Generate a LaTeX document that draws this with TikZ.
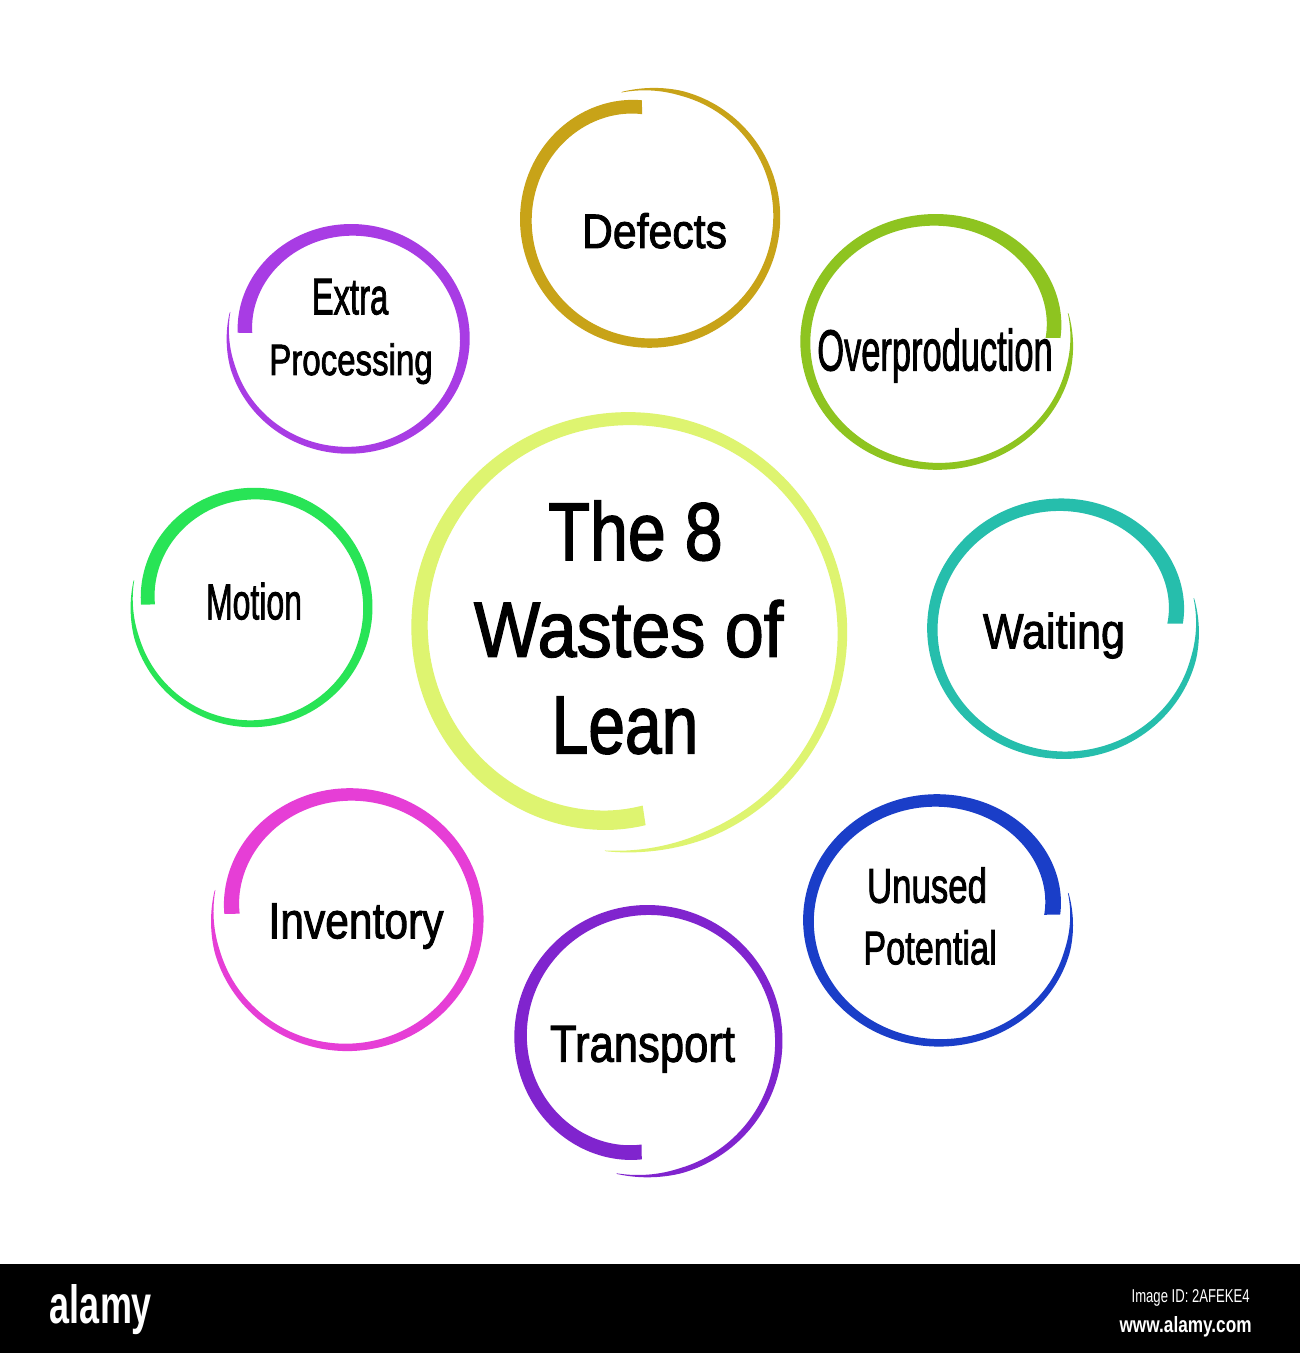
\documentclass[tikz,border=0pt]{standalone}
\usepackage{fontspec}
\setmainfont{Liberation Sans}
\newfontfamily\labfont[FakeBold=2]{Liberation Sans}
\usepackage{graphicx}
\definecolor{cDef}{RGB}{200,163,24}
\definecolor{cOver}{RGB}{142,196,32}
\definecolor{cWait}{RGB}{38,190,172}
\definecolor{cUnus}{RGB}{26,62,200}
\definecolor{cTran}{RGB}{128,36,206}
\definecolor{cInv}{RGB}{230,62,214}
\definecolor{cMot}{RGB}{40,228,86}
\definecolor{cExt}{RGB}{168,60,228}
\definecolor{cCen}{RGB}{222,244,112}
\pgfkeys{/br/.cd,
  cx/.store in=\brCx, cy/.store in=\brCy, a/.store in=\brA, s/.store in=\brS,
  R/.store in=\brR, h/.store in=\brH, g/.store in=\brG, w/.store in=\brW,
  ex/.store in=\brEx, col/.store in=\brCol}
\newcommand{\brushring}[1]{%
  \pgfkeys{/br/.cd, ex=1, #1}%
  \fill[\brCol] plot[domain=0:1, samples=200, variable=\t]
    ({\brCx+\brEx*(brr(\t)+brw(\t))*cos(bra(\t))},{\brCy+(brr(\t)+brw(\t))*sin(bra(\t))})
    -- plot[domain=0:1, samples=200, variable=\t]
    ({\brCx+\brEx*(brr(1-\t)-brw(1-\t))*cos(bra(1-\t))},{\brCy+(brr(1-\t)-brw(1-\t))*sin(bra(1-\t))})
    -- cycle;}
\tikzset{lab/.style={anchor=base, inner sep=0pt, text=black, font=\labfont}}
\begin{document}
\begin{tikzpicture}[x=0.5pt,y=-0.5pt,
  declare function={
    brr(\x)=\brR+\brG*\x^3-\brH*(1-\x)^8;
    brw(\x)=0.5*\brW*(1-0.7*\x)*min(1,(1.01-\x)*12);
    bra(\x)=\brA+\brS*\x;
  }]
\useasboundingbox (0,0) rectangle (1300,1353);
\fill[white] (0,0) rectangle (1300,1353);
% rings
\brushring{col=cCen, cx=627.5, cy=630, a=84.7, s=371.2, R=210, h=24, g=12, w=20}
\brushring{col=cDef, cx=650, cy=217, a=266, s=-369, R=126, h=16, g=2, w=14}
\brushring{col=cOver, cx=938, cy=342, a=-2, s=-371.4, R=124, h=16.5, g=1, w=14, ex=1.07}
\brushring{col=cWait, cx=1064, cy=628.5, a=-2.4, s=-371.4, R=126, h=19.6, g=2, w=15, ex=1.044}
\brushring{col=cUnus, cx=939.5, cy=920.5, a=-3, s=-370, R=122, h=17, g=1, w=15, ex=1.074}
\brushring{col=cTran, cx=647, cy=1039, a=92.5, s=370.4, R=128, h=15, g=10, w=15}
\brushring{col=cInv, cx=348, cy=919, a=182.5, s=370.2, R=126, h=13.3, g=6.3, w=15, ex=1.03}
\brushring{col=cMot, cx=253, cy=606.7, a=181, s=371.6, R=114, h=9, g=8, w=14}
\brushring{col=cExt, cx=350, cy=338, a=182.8, s=370, R=109, h=8.4, g=8.7, w=14, ex=1.045}
% labels
\node[lab] (the8) at (635.5,560) {\resizebox{87.2pt}{29.65pt}{The 8}};
\node[lab] (wastes) at (628.7,656.7) {\resizebox{154.65pt}{28.35pt}{Wastes of}};
\node[lab] (lean) at (625,753.3) {\resizebox{73.3pt}{28.35pt}{Lean}};
\node[lab] (defects) at (654.5,248) {\resizebox{72.5pt}{17.5pt}{Defects}};
\node[lab] (extra) at (350,314.3) {\resizebox{38.3pt}{17.65pt}{Extra}};
\node[lab] (processing) at (351,375) {\resizebox{81.7pt}{15.85pt}{Processing}};
\node[lab] (overprod) at (935,370.5) {\resizebox{117.7pt}{21pt}{Overproduction}};
\node[lab] (waiting) at (1054,648.3) {\resizebox{71pt}{17.85pt}{Waiting}};
\node[lab] (motion) at (254,619.3) {\resizebox{48pt}{18.3pt}{Motion}};
\node[lab] (inventory) at (356,938.3) {\resizebox{87.5pt}{17.5pt}{Inventory}};
\node[lab] (unused) at (927,902.7) {\resizebox{60pt}{17.7pt}{Unused}};
\node[lab] (potential) at (930,964.3) {\resizebox{66.7pt}{17.15pt}{Potential}};
\node[lab] (transport) at (642.5,1061.7) {\resizebox{92.5pt}{17.85pt}{Transport}};
% banner
\fill[black] (0,1264) rectangle (1300,1353);
\node[lab, text=white, font=\bfseries] (alamy) at (101,1323) {\resizebox{51pt}{19.5pt}{alamy}};
\node[lab, text=white, anchor=base east, font=\mdseries] (imgid) at (1250,1302) {\resizebox{59pt}{6.5pt}{Image ID: 2AFEKE4}};
\node[lab, text=white, anchor=base east, font=\bfseries] (www) at (1252,1332) {\resizebox{66pt}{8pt}{www.alamy.com}};
\end{tikzpicture}
\end{document}
